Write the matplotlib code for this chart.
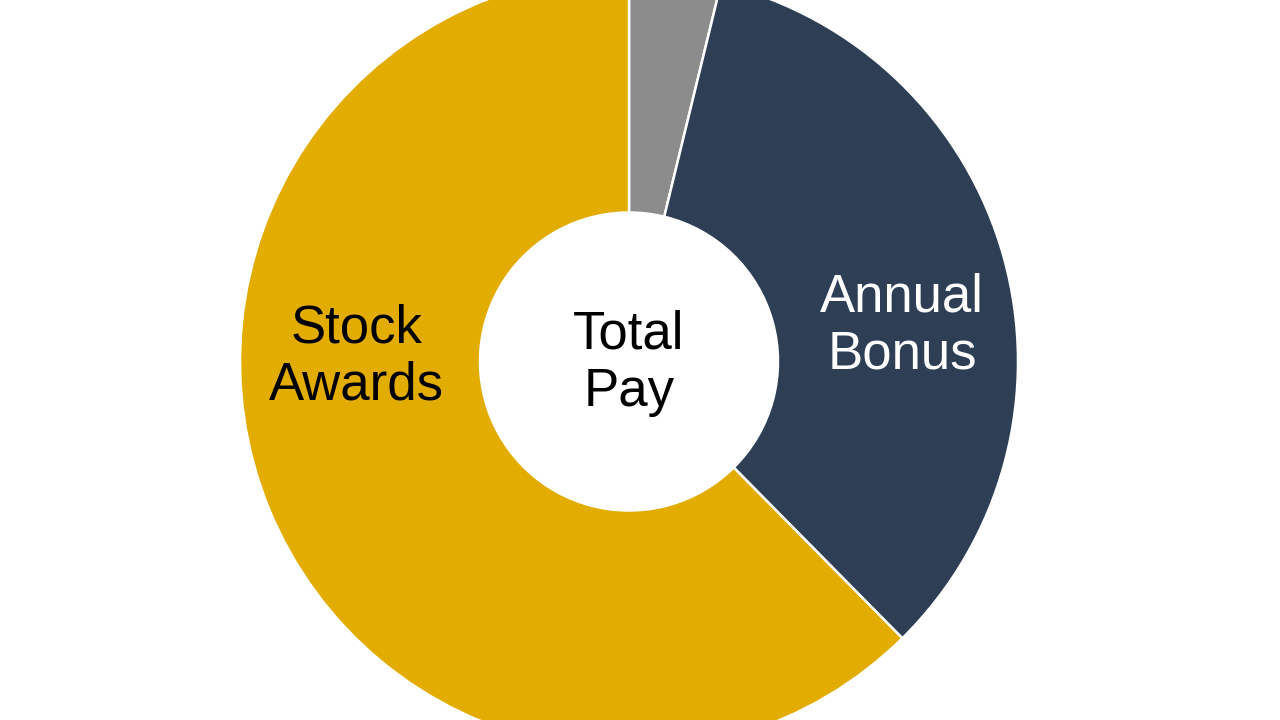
import matplotlib.pyplot as plt

# pay mix, share of total pay (%)
labels = ['Other', 'Annual\nBonus', 'Stock\nAwards']
shares = [3.8, 33.8, 62.4]
colors = ['#8C8C8C', '#2D3E55', '#E3AC00']
label_colors = [None, 'white', 'black']
center_label = 'Total\nPay'

plt.rcParams['font.family'] = ['Liberation Sans', 'DejaVu Sans']

fig = plt.figure(figsize=(12.8, 7.2), dpi=100)
ax = fig.add_axes([0, 0, 1, 1])

cx, cy = 629, 358.5
r_out, r_in = 389, 149

wedges, _ = ax.pie(shares, colors=colors, startangle=90, counterclock=False,
                   center=(cx, cy), radius=r_out,
                   wedgeprops=dict(width=r_out - r_in, edgecolor='white', linewidth=1.8))

# label spots (pixels)
label_pos = [None, (902, 394), (356, 363)]
for txt, pos, col in zip(labels, label_pos, label_colors):
    if pos is None:
        continue
    ax.text(pos[0], pos[1], txt, ha='center', va='center', color=col,
            fontsize=38, linespacing=1.2)

ax.text(cx, cy - 2, center_label, ha='center', va='center', color='black',
        fontsize=38, linespacing=1.2)

ax.set_xlim(0, 1280)
ax.set_ylim(0, 720)
ax.set_aspect('equal')
ax.axis('off')

fig.savefig('out.png', dpi=100)
